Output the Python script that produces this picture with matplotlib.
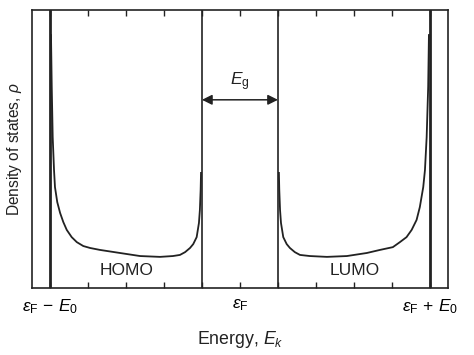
import matplotlib
matplotlib.use("Agg")
import matplotlib.pyplot as plt
import numpy as np

plt.rcParams['font.family'] = ['Liberation Sans', 'DejaVu Sans']
plt.rcParams['mathtext.fontset'] = 'custom'
plt.rcParams['mathtext.rm'] = 'Liberation Sans'
plt.rcParams['mathtext.it'] = 'Liberation Sans:italic'
plt.rcParams['mathtext.bf'] = 'Liberation Sans:bold'

# energies in units of E0 relative to eF, density in arbitrary units
homo_e = [-0.995, -0.991, -0.986, -0.979, -0.974, -0.962, -0.947, -0.930, -0.912,
          -0.886, -0.859, -0.825, -0.789, -0.737, -0.632, -0.526, -0.421, -0.353,
          -0.316, -0.289, -0.263, -0.246, -0.228, -0.216, -0.211, -0.207, -0.205]
homo_rho = [0.910, 0.723, 0.543, 0.424, 0.363, 0.309, 0.270, 0.237, 0.209,
            0.183, 0.165, 0.151, 0.144, 0.137, 0.126, 0.115, 0.112, 0.115,
            0.119, 0.129, 0.144, 0.158, 0.183, 0.234, 0.281, 0.353, 0.414]

lumo_e = [0.205, 0.207, 0.211, 0.216, 0.228, 0.246, 0.263, 0.289, 0.316, 0.368,
          0.458, 0.563, 0.668, 0.737, 0.805, 0.842, 0.877, 0.904, 0.930, 0.947,
          0.965, 0.974, 0.983, 0.991, 0.995]
lumo_rho = [0.414, 0.353, 0.281, 0.234, 0.183, 0.158, 0.144, 0.129, 0.119, 0.115,
            0.112, 0.115, 0.126, 0.137, 0.147, 0.165, 0.183, 0.209, 0.245, 0.291,
            0.363, 0.424, 0.543, 0.723, 0.910]

band_edges = [-1.0, 1.0]
gap_edges = [-0.2, 0.2]
tick_pos = np.round(np.arange(-1.0, 1.01, 0.2), 2)
tick_labels = {-1.0: r'$\varepsilon_{\mathrm{F}}\,-\,E_0$', 0.0: r'$\varepsilon_{\mathrm{F}}$',
               1.0: r'$\varepsilon_{\mathrm{F}}\,+\,E_0$'}

col = '#222222'

fig = plt.figure(figsize=(4.74, 3.55), dpi=100)
ax = fig.add_axes([0.0675, 0.1887, 0.8775, 0.7831])

ax.plot(homo_e, homo_rho, color=col, lw=1.3, solid_joinstyle='round')
ax.plot(lumo_e, lumo_rho, color=col, lw=1.3, solid_joinstyle='round')
for x in band_edges:
    ax.axvline(x, color=col, lw=2.0)
for x in gap_edges:
    ax.axvline(x, color=col, lw=1.2)

ax.annotate('', xy=(gap_edges[0], 0.677), xytext=(gap_edges[1], 0.677),
            arrowprops=dict(arrowstyle='<|-|>', color=col, lw=1.1,
                            mutation_scale=15, shrinkA=0, shrinkB=0))
ax.text(0.0, 0.70, r'$E_{\mathrm{g}}$', ha='center', va='bottom', fontsize=12.5, color=col)
ax.text(-0.595, 0.062, 'HOMO', ha='center', va='center', fontsize=12.5, color=col)
ax.text(0.605, 0.062, 'LUMO', ha='center', va='center', fontsize=12.5, color=col)

ax.set_xlim(-1.095, 1.095)
ax.set_ylim(0, 1)
ax.set_xticks(tick_pos)
ax.set_xticklabels([tick_labels.get(float(t), '') for t in tick_pos], fontsize=12.5)
ax.set_yticks([])
ax.tick_params(axis='x', direction='in', top=True, length=4, width=1, color=col, pad=7)
for s in ax.spines.values():
    s.set_linewidth(1.2)
    s.set_color(col)

ax.set_xlabel(r'Energy, $E_k$', fontsize=12.8, labelpad=9, color=col)
ax.set_ylabel(r'Density of states, $\rho$', fontsize=11.2, labelpad=6, color=col)

fig.savefig('out.png', dpi=100)
